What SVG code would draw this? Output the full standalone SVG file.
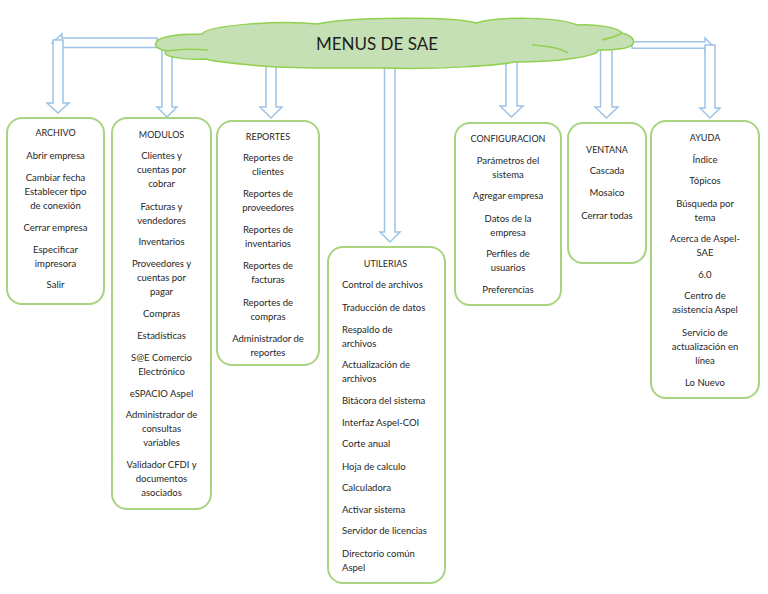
<svg xmlns="http://www.w3.org/2000/svg" width="768" height="594" viewBox="0 0 768 594">
<style>
.box{fill:#fff;stroke:#a9d47f;stroke-width:2}
.arr{fill:#fff;stroke:#9dc3e6;stroke-width:1.5;stroke-linejoin:miter}
.cloud{fill:#c5e0b4;stroke:#92d050;stroke-width:1.5}
.cl{fill:none;stroke:#92d050;stroke-width:1.5}
text{font-family:Lato,"Liberation Sans",sans-serif;font-size:9.5px;fill:#262626}
.h{font-size:9px}
.c{text-anchor:middle}
.title{font-size:17px;fill:#1e1e1e}
</style>
<rect width="768" height="594" fill="#fff"/>
<g id="connectors">
  <path class="arr" d="M157,38 L62,38 L62,34 L52,43 L62,52 L62,47.5 L157,47.5 Z"/>
  <path class="arr" d="M632,41.7 L705,41.7 L705,38 L712,45 L705,52 L705,48.3 L632,48.3 Z"/>
  <path class="arr" d="M53,40 L63,40 L63,103 L69,103 L58,113 L47,103 L53,103 Z"/>
  <path class="arr" d="M162,48 L172,48 L172,107 L177,107 L167,117 L157,107 L162,107 Z"/>
  <path class="arr" d="M266,58 L276,58 L276,107 L282,107 L271,118 L260,107 L266,107 Z"/>
  <path class="arr" d="M384.5,60 L395,60 L395,232 L400,232 L390,242 L380,232 L384.5,232 Z"/>
  <path class="arr" d="M506,56 L517,56 L517,106 L523,106 L511.5,117 L500,106 L506,106 Z"/>
  <path class="arr" d="M600.5,46 L612,46 L612,107 L618,107 L606.5,118 L595,107 L600.5,107 Z"/>
  <path class="arr" d="M705,45 L715,45 L715,108 L720,108 L710,118 L700,108 L705,108 Z"/>
</g>
<g id="menus">
  <path class="cloud" d="M156,43 C158,36 182,34 202,34 C208,25 280,20 318,24 C345,17 455,16 476,23 C500,16 560,17 577,25 C595,24 618,27 622,33 C630,35 637,40 632,45 C628,49 612,50 598,50 C600,56 560,62 515,62 C500,65 440,70 380,68 C340,68 300,69 262,66 C240,64 215,62 206,59 C185,60 160,57 166,51 C158,49 154,46 156,43 Z"/>
  <path class="cl" d="M166,51 Q185,48 208,50"/>
  <path class="cl" d="M532,45 Q560,47 568,53"/>
  <path class="cl" d="M602,40 Q615,37 622,33"/>
  <text class="title c" x="377" y="49.5">MENUS DE SAE</text>
</g>
<g id="archivo">
  <rect class="box" x="7" y="118" width="97" height="186" rx="15"/>
  <text class="c h" x="55.5" y="136.3">ARCHIVO</text>
  <text class="c" x="55.5" y="159.4">Abrir empresa</text>
  <text class="c" x="55.5" y="181">Cambiar fecha</text>
  <text class="c" x="55.5" y="195">Establecer tipo</text>
  <text class="c" x="55.5" y="209">de conexión</text>
  <text class="c" x="55.5" y="230.7">Cerrar empresa</text>
  <text class="c" x="55.5" y="252.7">Especificar</text>
  <text class="c" x="55.5" y="266.7">impresora</text>
  <text class="c" x="55.5" y="287.7">Salir</text>
</g>
<g id="modulos">
  <rect class="box" x="112" y="118" width="99" height="391" rx="15"/>
  <text class="c h" x="161.5" y="137.6">MODULOS</text>
  <text class="c" x="161.5" y="159">Clientes y</text>
  <text class="c" x="161.5" y="173">cuentas por</text>
  <text class="c" x="161.5" y="187">cobrar</text>
  <text class="c" x="161.5" y="210">Facturas y</text>
  <text class="c" x="161.5" y="224">vendedores</text>
  <text class="c" x="161.5" y="245">Inventarios</text>
  <text class="c" x="161.5" y="267.4">Proveedores y</text>
  <text class="c" x="161.5" y="281.4">cuentas por</text>
  <text class="c" x="161.5" y="295.4">pagar</text>
  <text class="c" x="161.5" y="316.7">Compras</text>
  <text class="c" x="161.5" y="339">Estadísticas</text>
  <text class="c" x="161.5" y="360.7">S@E Comercio</text>
  <text class="c" x="161.5" y="374.7">Electrónico</text>
  <text class="c" x="161.5" y="396.7">eSPACIO Aspel</text>
  <text class="c" x="161.5" y="418.4">Administrador de</text>
  <text class="c" x="161.5" y="432.4">consultas</text>
  <text class="c" x="161.5" y="446.4">variables</text>
  <text class="c" x="161.5" y="467.7">Validador CFDI y</text>
  <text class="c" x="161.5" y="481.7">documentos</text>
  <text class="c" x="161.5" y="495.7">asociados</text>
</g>
<g id="reportes">
  <rect class="box" x="217" y="121" width="102" height="244" rx="15"/>
  <text class="c h" x="268" y="140">REPORTES</text>
  <text class="c" x="268" y="161.1">Reportes de</text>
  <text class="c" x="268" y="175.1">clientes</text>
  <text class="c" x="268" y="197.4">Reportes de</text>
  <text class="c" x="268" y="211.4">proveedores</text>
  <text class="c" x="268" y="233.4">Reportes de</text>
  <text class="c" x="268" y="247.4">inventarios</text>
  <text class="c" x="268" y="269.4">Reportes de</text>
  <text class="c" x="268" y="283.4">facturas</text>
  <text class="c" x="268" y="305.7">Reportes de</text>
  <text class="c" x="268" y="319.7">compras</text>
  <text class="c" x="268" y="341.7">Administrador de</text>
  <text class="c" x="268" y="355.7">reportes</text>
</g>
<g id="utilerias">
  <rect class="box" x="328" y="247" width="117" height="336" rx="15"/>
  <text class="c h" x="385.5" y="267.3">UTILERIAS</text>
  <text x="342" y="288.4">Control de archivos</text>
  <text x="342" y="311">Traducción de datos</text>
  <text x="342" y="332.7">Respaldo de</text>
  <text x="342" y="346.7">archivos</text>
  <text x="342" y="368.4">Actualización de</text>
  <text x="342" y="382.4">archivos</text>
  <text x="342" y="404.4">Bitácora del sistema</text>
  <text x="342" y="426">Interfaz Aspel-COI</text>
  <text x="342" y="447.4">Corte anual</text>
  <text x="342" y="470">Hoja de calculo</text>
  <text x="342" y="491">Calculadora</text>
  <text x="342" y="512.7">Activar sistema</text>
  <text x="342" y="534.4">Servidor de licencias</text>
  <text x="342" y="556.7">Directorio común</text>
  <text x="342" y="570.7">Aspel</text>
</g>
<g id="configuracion">
  <rect class="box" x="455" y="123" width="106" height="182" rx="15"/>
  <text class="c h" x="508" y="141.6">CONFIGURACION</text>
  <text class="c" x="508" y="164.4">Parámetros del</text>
  <text class="c" x="508" y="178.4">sistema</text>
  <text class="c" x="508" y="199.4">Agregar empresa</text>
  <text class="c" x="508" y="221.7">Datos de la</text>
  <text class="c" x="508" y="235.7">empresa</text>
  <text class="c" x="508" y="257.4">Perfiles de</text>
  <text class="c" x="508" y="271.4">usuarios</text>
  <text class="c" x="508" y="293.4">Preferencias</text>
</g>
<g id="ventana">
  <rect class="box" x="568" y="123" width="78" height="140" rx="15"/>
  <text class="c h" x="607" y="152.6">VENTANA</text>
  <text class="c" x="607" y="174.4">Cascada</text>
  <text class="c" x="607" y="196">Mosaico</text>
  <text class="c" x="607" y="218.7">Cerrar todas</text>
</g>
<g id="ayuda">
  <rect class="box" x="651" y="121" width="108" height="277" rx="15"/>
  <text class="c h" x="705" y="140.6">AYUDA</text>
  <text class="c" x="705" y="163.4">Índice</text>
  <text class="c" x="705" y="184">Tópicos</text>
  <text class="c" x="705" y="206.7">Búsqueda por</text>
  <text class="c" x="705" y="220.7">tema</text>
  <text class="c" x="705" y="242.4">Acerca de Aspel-</text>
  <text class="c" x="705" y="256.4">SAE</text>
  <text class="c" x="705" y="278.4">6.0</text>
  <text class="c" x="705" y="299.4">Centro de</text>
  <text class="c" x="705" y="313.4">asistencia Aspel</text>
  <text class="c" x="705" y="336">Servicio de</text>
  <text class="c" x="705" y="350">actualización en</text>
  <text class="c" x="705" y="364">línea</text>
  <text class="c" x="705" y="386">Lo Nuevo</text>
</g>
</svg>
